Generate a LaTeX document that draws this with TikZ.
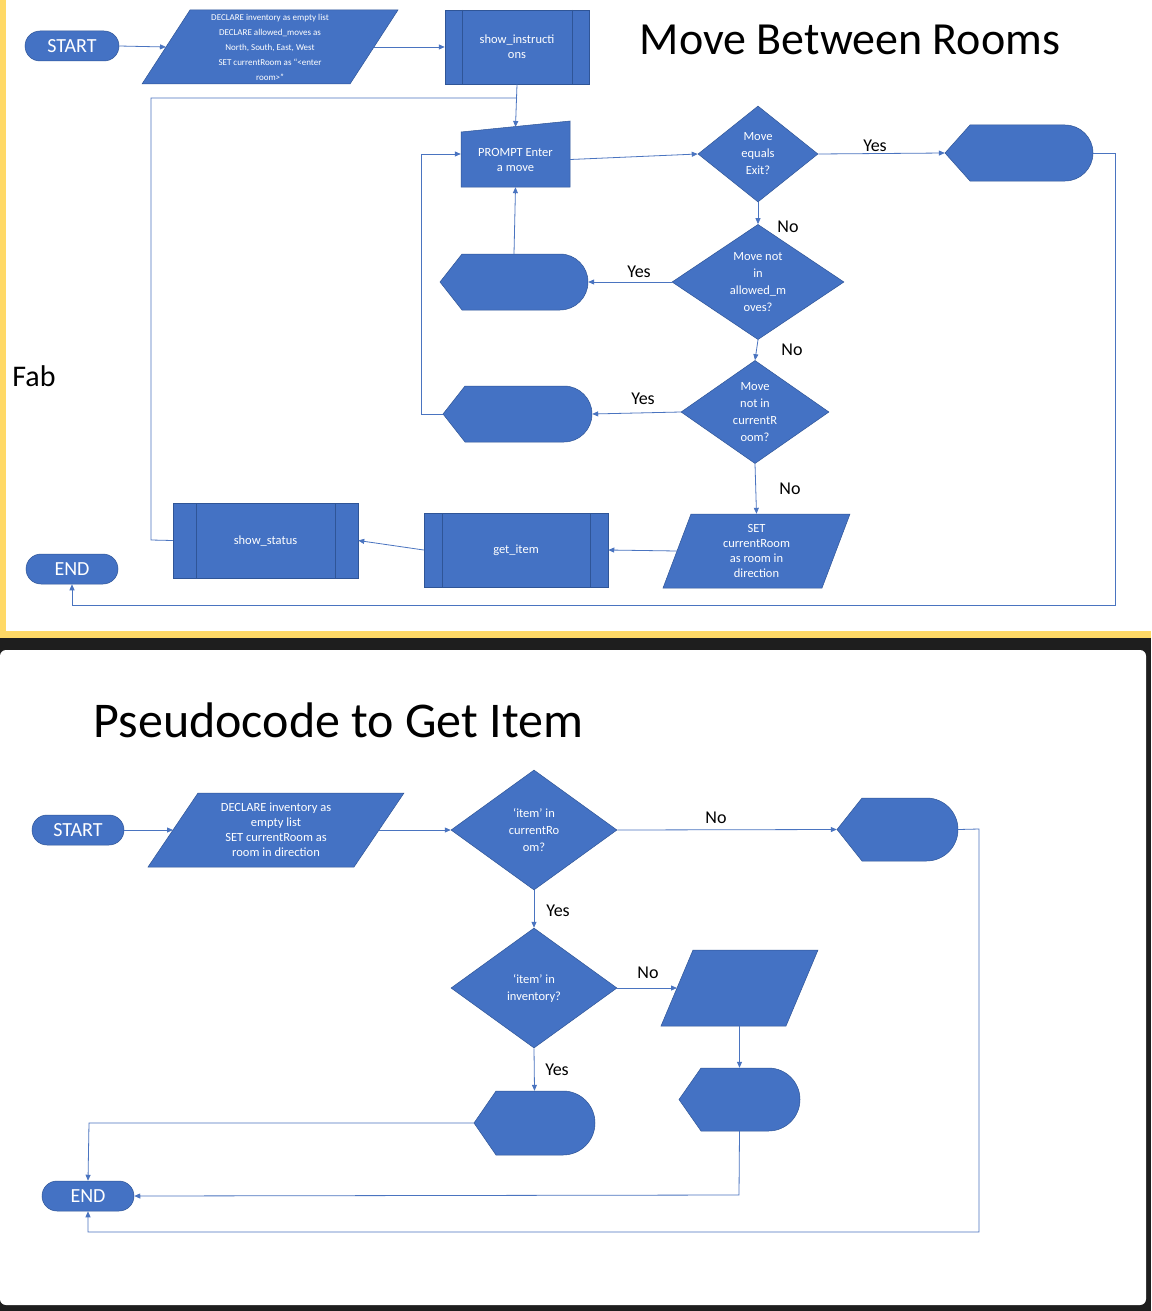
\documentclass[tikz,border=0pt]{standalone}
\usepackage{fontspec}
\setmainfont{Carlito}
\usetikzlibrary{shapes.geometric,arrows.meta,calc}
\definecolor{fb}{HTML}{4472C4}
\definecolor{fbd}{HTML}{2F5597}
\definecolor{lc}{HTML}{4A74C0}
\definecolor{yel}{HTML}{FFD966}
\definecolor{dk}{HTML}{1E1E1E}
\tikzset{
 box/.style={fill=fb, draw=fbd, line width=0.5pt},
 lbl/.style={text=white, align=center, inner sep=0pt, font=\fontsize{12.5}{15}\selectfont},
 term/.style={box, rounded corners=15pt, text=white, font=\fontsize{20}{22}\selectfont, inner sep=0pt},
 dec/.style={box, diamond, inner sep=0pt, text=white, align=center, font=\fontsize{12.5}{17}\selectfont},
 conn/.style={draw=lc, line width=0.8pt, -{Triangle[length=6pt,width=5pt]}},
 plainline/.style={draw=lc, line width=0.8pt},
 yn/.style={font=\fontsize{18}{20}\selectfont, inner sep=0pt},
 x=1pt,y=1pt
}
% display shape: name x1 y1 x2 y2 slant
\newcommand\dispbox[6]{%
 \pgfmathsetmacro\rr{(#5-#3)/2}\pgfmathsetmacro\ww{#4-#2}\pgfmathsetmacro\ym{(#3+#5)/2}\pgfmathsetmacro\xm{(#2+#4)/2}%
 \path[box] (#2,-\ym) -- (#2+#6,-#3) -- (#4-\rr,-#3) arc[start angle=90,end angle=-90,radius=\rr] -- (#2+#6,-#5) -- cycle;
 \node[inner sep=0pt,minimum width=\ww,minimum height=2*\rr] (#1) at (\xm,-\ym) {};}
% parallelogram: name x1 y1 x2 y2 slant text
\newcommand\parabox[7]{%
 \pgfmathsetmacro\ww{#4-#2}\pgfmathsetmacro\hh{#5-#3}\pgfmathsetmacro\ym{(#3+#5)/2}\pgfmathsetmacro\xm{(#2+#4)/2}%
 \path[box] (#2+#6,-#3) -- (#4,-#3) -- (#4-#6,-#5) -- (#2,-#5) -- cycle;
 \node[lbl,minimum width=\ww,minimum height=\hh] (#1) at (\xm,-\ym) {#7};
 \coordinate (#1-w) at (#2+#6/2,-\ym); \coordinate (#1-e) at (#4-#6/2,-\ym);}
% predefined process: name x1 y1 x2 y2 inset text
\newcommand\procbox[7]{%
 \pgfmathsetmacro\ww{#4-#2}\pgfmathsetmacro\hh{#5-#3}\pgfmathsetmacro\ym{(#3+#5)/2}\pgfmathsetmacro\xm{(#2+#4)/2}%
 \node[box,lbl,minimum width=\ww,minimum height=\hh] (#1) at (\xm,-\ym) {#7};
 \draw[fbd,line width=0.5pt] (#2+#6,-#3) -- (#2+#6,-#5) (#4-#6,-#3) -- (#4-#6,-#5);}
\begin{document}
\begin{tikzpicture}
\useasboundingbox (0,0) rectangle (1151,-1311);
% backgrounds
\fill[white] (0,0) rectangle (1151,-638);
\fill[yel] (0,0) rectangle (6,-638);
\fill[yel] (0,-631) rectangle (1151,-638);
\fill[dk] (0,-638) rectangle (1151,-1311);
\fill[white,rounded corners=6pt] (0,-650) rectangle (1146,-1305);

% ===== top panel =====
\node[font=\fontsize{46}{50}\selectfont] (t1) at (850,-40) {Move Between Rooms};
\node[font=\fontsize{30}{32}\selectfont] (fab) at (34,-376) {Fab};
\node[term,minimum width=94,minimum height=30] (s1) at (72,-46) {START};
\parabox{p1}{142}{10}{398}{84}{48}{\fontsize{9}{12.5}\selectfont DECLARE inventory as empty list\\ \fontsize{9}{12.5}\selectfont DECLARE allowed\_moves as\\ \fontsize{9}{12.5}\selectfont North, South, East, West\\ \fontsize{9}{12.5}\selectfont SET currentRoom as ``<enter\\ \fontsize{9}{12.5}\selectfont room>''}
\procbox{si}{445}{10}{589}{84}{17}{show\_instructi\\ons}
\path[box] (461,-132) -- (570,-121) -- (570,-187) -- (461,-187) -- cycle;
\node[lbl,minimum width=109,minimum height=55] (pr) at (515.5,-159.5) {PROMPT Enter\\a move};
\node[dec,minimum width=120,minimum height=96] (d1) at (758,-154) {Move\\equals\\Exit?};
\dispbox{x1}{945}{125}{1093}{181}{25}
\node[dec,minimum width=172,minimum height=92] (d2) at (758,-282) {Move not\\in\\allowed\_m\\oves?};
\dispbox{x2}{440}{254}{588}{310}{22}
\node[dec,minimum width=148,minimum height=96] (d3) at (755,-412) {Move\\not in\\currentR\\oom?};
\dispbox{x3}{443}{386}{592}{442}{22}
\parabox{p2}{663}{514}{850}{588}{28}{SET\\currentRoom\\as room in\\direction}
\procbox{gi}{424}{513}{608}{587}{18}{get\_item}
\procbox{ss}{173}{503}{358}{578}{23}{show\_status}
\node[term,minimum width=92,minimum height=30] (e1) at (72,-569) {END};

\node[yn] at (875,-146) {Yes};
\node[yn] at (788,-227) {No};
\node[yn] at (639,-272) {Yes};
\node[yn] at (792,-350) {No};
\node[yn] at (643,-399) {Yes};
\node[yn] at (790,-489) {No};

\draw[conn] (s1.east) -- (p1-w);
\draw[conn] (p1-e) -- (si.west);
\draw[conn] (si.south) -- (pr.north |- 0,-127);
\draw[plainline] (ss.west) -- (151,-540) -- (151,-98) -- (si.south |- 0,-98);
\draw[conn] (pr.east) -- (d1.west);
\draw[conn] (d1.east) -- (x1.west);
\draw[conn] (d1.south) -- (d2.north);
\draw[conn] (d2.west) -- (x2.east);
\draw[conn] (x2.north) -- (pr.south);
\draw[conn] (d2.south) -- (d3.north);
\draw[conn] (d3.west) -- (x3.east);
\draw[conn] (x3.west) -- (421,-414) -- (421,-154) -- (pr.west |- 0,-154);
\draw[conn] (d3.south) -- (p2.north);
\draw[conn] (p2-w) -- (gi.east);
\draw[conn] (gi.west) -- (ss.east);
\draw[conn] (x1.east) -- (1115,-153) -- (1115,-605) -- (72,-605) -- (e1.south);

% ===== bottom panel =====
\node[font=\fontsize{50}{54}\selectfont,anchor=west] (t2) at (90,-720) {Pseudocode to Get Item};
\node[term,minimum width=92,minimum height=30] (s2) at (78,-830) {START};
\parabox{q1}{148}{793}{404}{867}{50}{DECLARE inventory as\\empty list\\SET currentRoom as\\room in direction}
\node[dec,minimum width=166,minimum height=120] (da) at (534,-830) {`item' in\\currentRo\\om?};
\dispbox{ya}{837}{798}{958}{861}{25}
\node[dec,minimum width=166,minimum height=120] (db) at (534,-988) {`item' in\\inventory?};
\parabox{q2}{661}{950}{818}{1026}{32}{}
\dispbox{yb}{679}{1068}{800}{1131}{22}
\dispbox{yc}{474}{1091}{595}{1155}{22}
\node[term,minimum width=92,minimum height=30] (e2) at (88,-1196) {END};

\node[yn] at (716,-818) {No};
\node[yn] at (558,-911) {Yes};
\node[yn] at (648,-973) {No};
\node[yn] at (557,-1070) {Yes};

\draw[conn] (s2.east) -- (q1-w);
\draw[conn] (q1-e) -- (da.west);
\draw[conn] (da.east) -- (ya.west);
\draw[conn] (da.south) -- (db.north);
\draw[conn] (db.east) -- (q2-w);
\draw[conn] (db.south) -- (yc.north);
\draw[conn] (q2.south) -- (yb.north);
\draw[conn] (yc.west) -- (89,-1123) -- (e2.north);
\draw[conn] (yb.south) -- (739,-1195) -- (e2.east);
\draw[conn] (ya.east) -- (979,-829) -- (979,-1232) -- (88,-1232) -- (e2.south);
\end{tikzpicture}
\end{document}
